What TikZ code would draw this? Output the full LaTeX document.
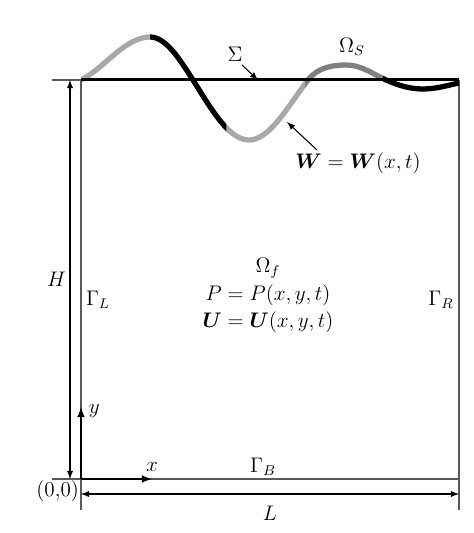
\documentclass[tikz,border=0pt]{standalone}
\usepackage{amsmath}
\usepackage{amssymb}
\usepackage{bm}
\usetikzlibrary{calc}
\definecolor{wavelight}{gray}{0.66}
\definecolor{wavemid}{gray}{0.5}
\definecolor{wall}{gray}{0.35}

% deflected plate, traced once and coloured piece by piece
\def\platepath{(0,7.98) .. controls (0.46,8.21) and (0.88,8.84) .. (1.38,8.84)
  .. controls (1.688,8.84) and (1.953,8.43) .. (2.24,7.98)
  .. controls (2.614,7.382) and (2.96,6.78) .. (3.36,6.78)
  .. controls (3.78,6.78) and (4.146,7.468) .. (4.54,7.98)
  .. controls (4.74,8.24) and (5.04,8.28) .. (5.32,8.28)
  .. controls (5.6,8.28) and (5.86,8.09) .. (6.1,7.98)
  .. controls (6.35,7.87) and (6.58,7.8) .. (6.84,7.8)
  .. controls (7.1,7.8) and (7.32,7.87) .. (7.56,7.92)}

\begin{document}
\begin{tikzpicture}[>=latex,font=\large,
    wave/.style={line width=3pt,line cap=butt},
    wallline/.style={wall,line width=0.6pt},
    dimline/.style={<->,line width=0.6pt},
    pointer/.style={->,line width=0.6pt},
    axis/.style={->,line width=1pt}]
      \useasboundingbox (-1.62,-1.08) rectangle (7.86,9.58);
      % corners of the fluid domain
      \coordinate (O) at (0,0);
      \coordinate (BR) at (7.56,0);
      \coordinate (TL) at (0,7.98);
      \coordinate (TR) at (7.56,7.98);
      % walls and extension lines
      \draw[wallline] (0,-0.62) -- (TL);
      \draw[wallline] (7.56,-0.62) -- (TR);
      \draw[wallline] (-0.58,0) -- (BR);
      \draw[wallline] (-0.58,7.98) -- (TL);
      % the elastic plate
      \foreach \xa/\xb/\col in {0/1.38/wavelight,1.38/2.914/black,2.914/4.48/wavelight,4.48/6.04/wavemid,6.04/7.56/black}{
        \begin{scope}
          \clip (\xa,6.5) rectangle (\xb,9.2);
          \draw[wave,\col] \platepath;
        \end{scope}
      }
      \draw[line width=1.7pt] (TL) -- (TR);
      % dimensions
      \draw[dimline] (-0.22,0) -- (-0.22,7.98) node[midway,left=0pt,inner sep=2pt] {$H$};
      \draw[dimline] (0,-0.3) -- (7.56,-0.3) node[midway,below=3pt] {$L$};
      \node[below left,inner sep=1pt] (orig) at (O) {(0,0)};
      % axes
      \draw[axis] (O) -- (0,1.44) node[below right,inner sep=1pt,xshift=3pt,yshift=3pt] (ylab) {$y$};
      \draw[axis] (O) -- (1.42,0) node[above,inner sep=4pt] (xlab) {$x$};
      % boundaries and domains
      \node (gb) at (3.64,0.24) {$\Gamma_B$};
      \node (gl) at (0.34,3.58) {$\Gamma_L$};
      \node (gr) at (7.2,3.58) {$\Gamma_R$};
      \node (omf) at (3.74,4.22) {$\Omega_f$};
      \node (peq) at (3.74,3.68) {$P=P(x,y,t)$};
      \node (ueq) at (3.74,3.14) {$\bm{U}=\bm{U}(x,y,t)$};
      \node (oms) at (5.42,8.64) {$\Omega_S$};
      \node (sig) at (3.08,8.5) {$\Sigma$};
      \node (weq) at (5.54,6.32) {$\bm{W}=\bm{W}(x,t)$};
      \coordinate (sigtail) at (3.22,8.28);
      \coordinate (sigtip) at (3.54,7.98);
      \coordinate (wtail) at (4.72,6.58);
      \coordinate (wtip) at (4.12,7.14);
      \draw[pointer] (sigtail) -- (sigtip);
      \draw[pointer] (wtail) -- (wtip);
\end{tikzpicture}
\end{document}
